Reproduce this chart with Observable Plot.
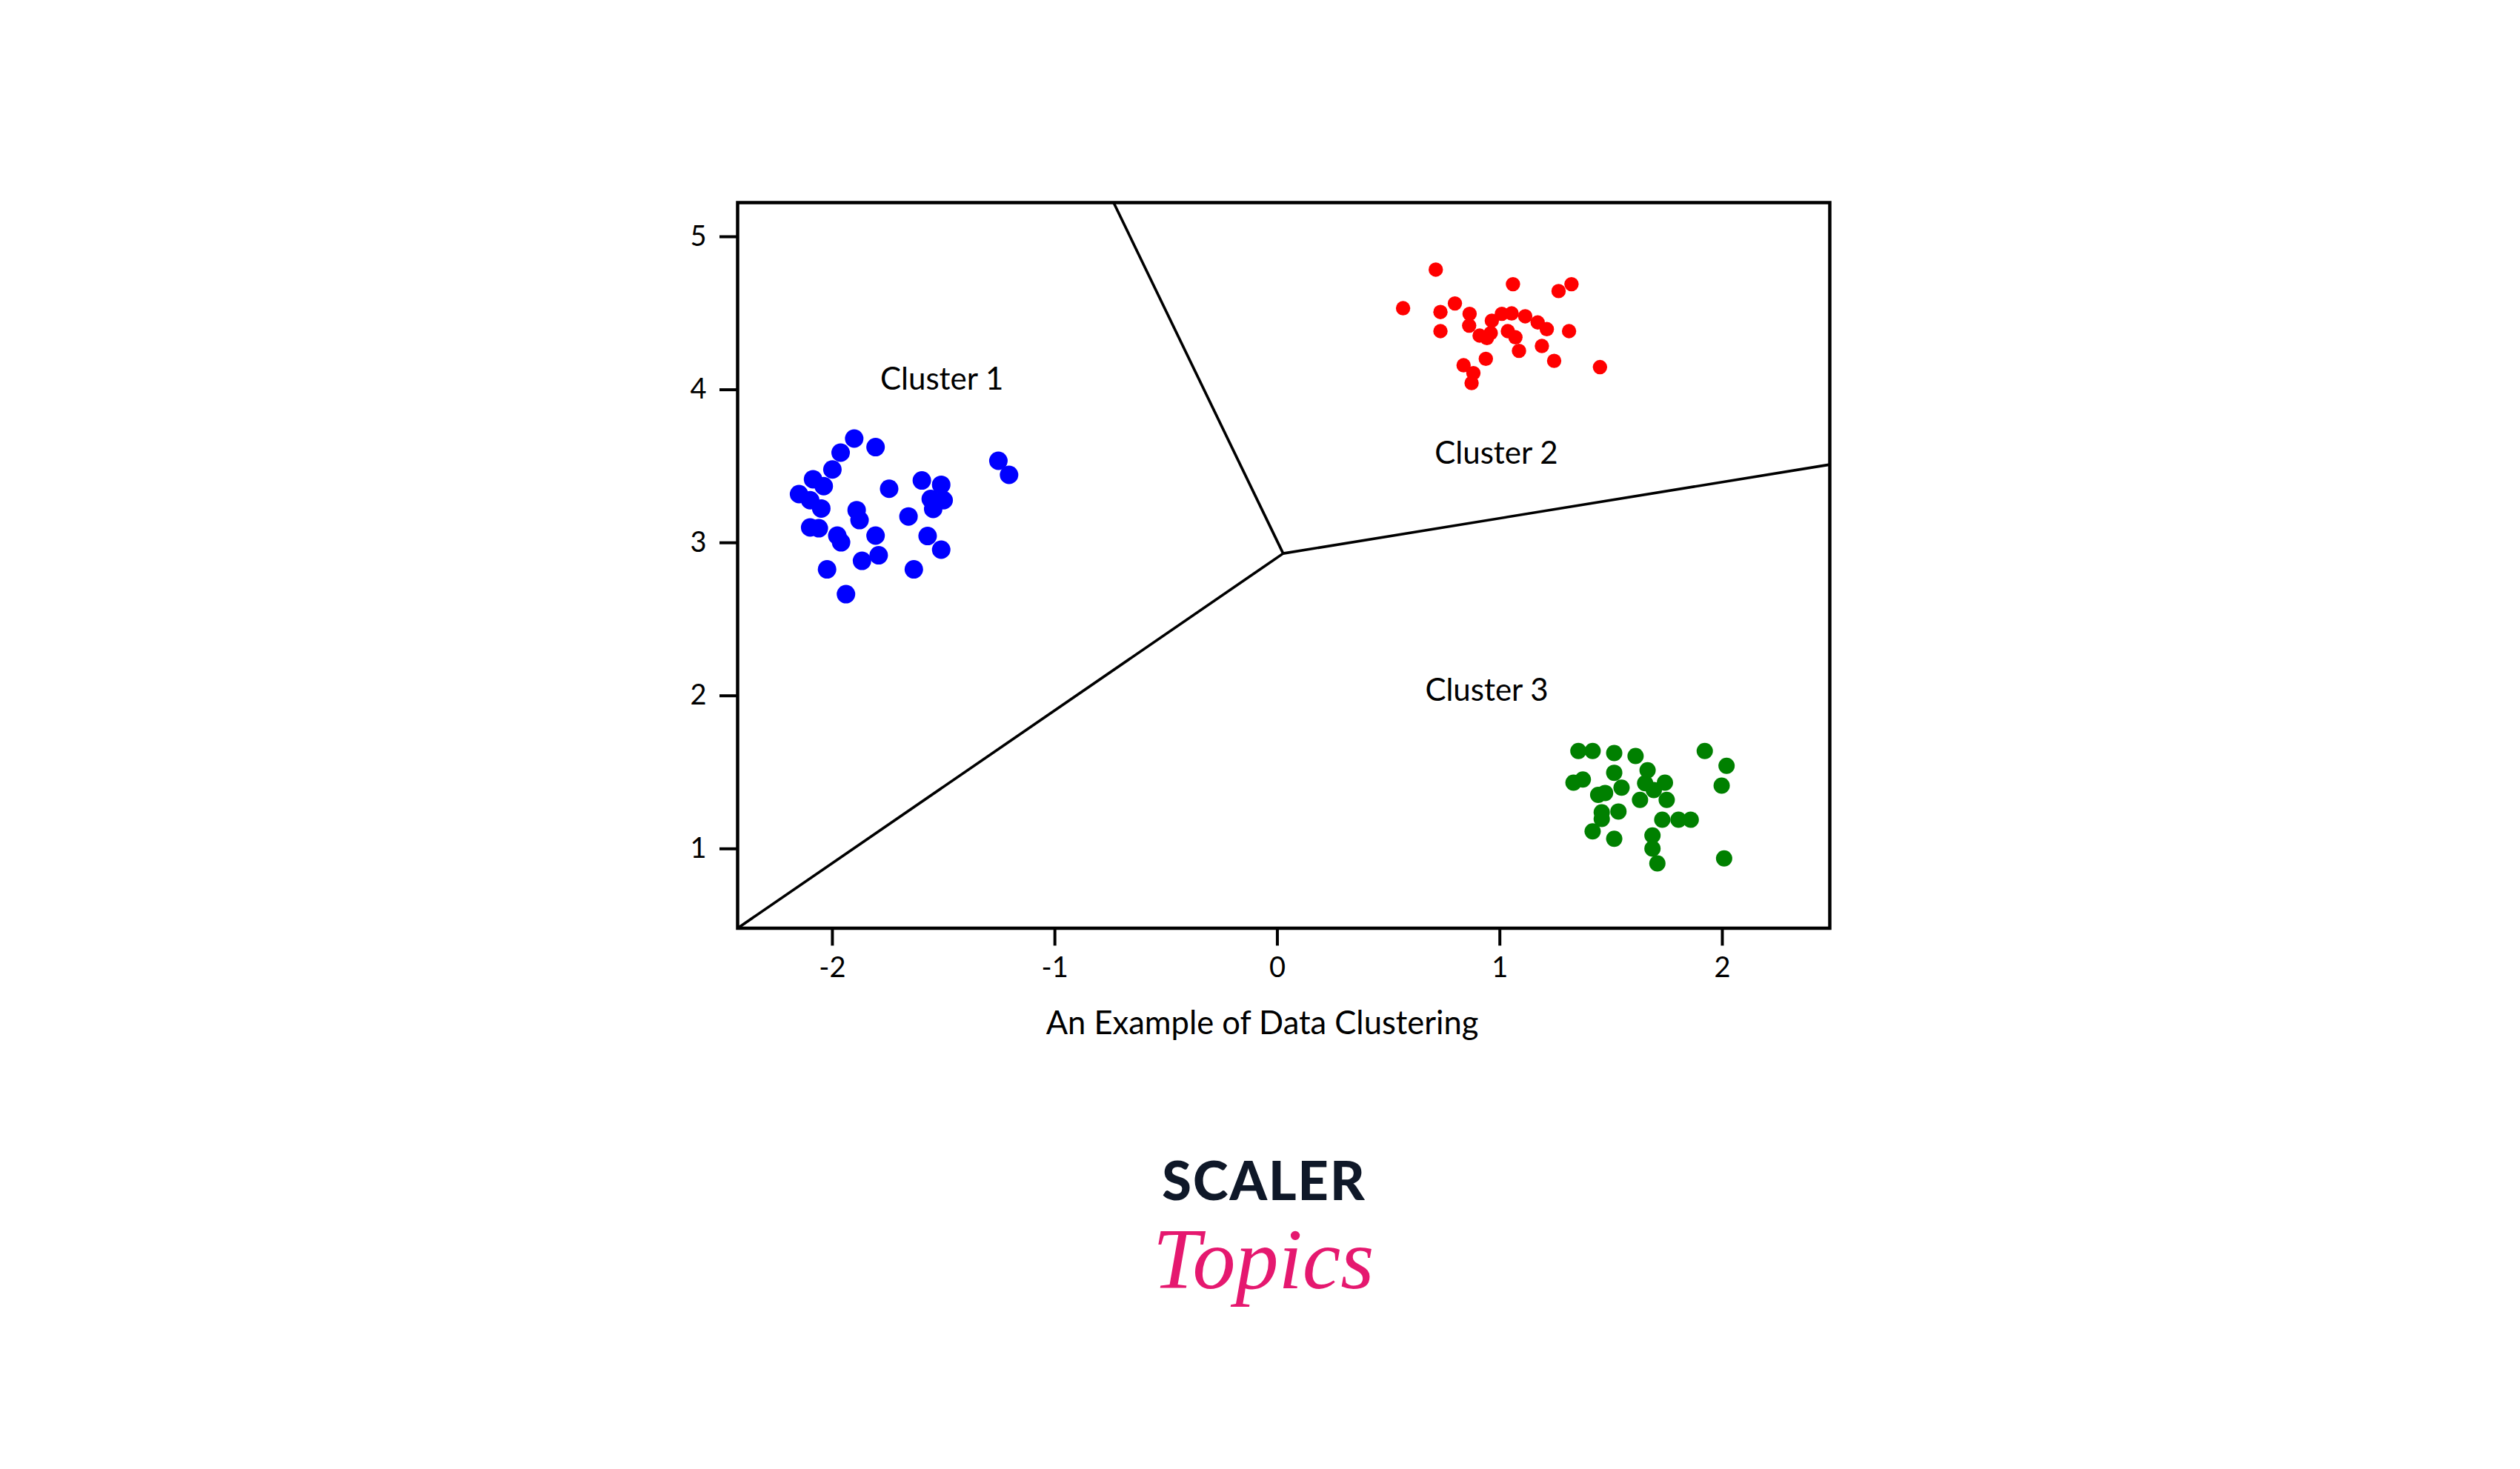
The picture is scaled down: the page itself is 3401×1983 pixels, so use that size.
<!DOCTYPE html>
<html>
<head>
<meta charset="utf-8">
<script src="https://cdn.jsdelivr.net/npm/d3@7"></script>
<script src="https://cdn.jsdelivr.net/npm/@observablehq/plot@0.6"></script>
<style>
  html, body { margin: 0; padding: 0; background: #ffffff; }
  #page { position: relative; width: 3401px; height: 1983px; background: #ffffff; overflow: hidden; }
  #chart { position: absolute; left: 0; top: 0; }
  #logo { position: absolute; left: 1550px; top: 1556px; width: 310px; text-align: center; }
  #logo .scaler { font-family: Lato, "Open Sans", sans-serif; font-weight: 900; font-size: 72px; letter-spacing: 2px; color: #0f1828; line-height: 1; margin-left: 2px; }
  #logo .topics { font-family: "Liberation Serif", "DejaVu Serif", serif; font-style: italic; font-size: 116px; color: #e5186f; line-height: 1; margin-top: 14px; }
</style>
</head>
<body>
<div id="page">
  <div id="chart"></div>
  <div id="logo"><div class="scaler">SCALER</div><div class="topics">Topics</div></div>
</div>
<script>
// ---- Data ----
const cluster1X = [-1.902, -1.806, -1.963, -2.000, -2.087, -2.039, -2.150, -2.100, -2.050, -1.745,
                   -1.598, -1.511, -1.558, -1.500, -1.547, -1.891, -1.878, -2.100, -2.061, -1.658,
                   -1.978, -1.961, -1.806, -1.572, -1.511, -1.867, -1.792, -2.024, -1.634, -1.939,
                   -1.254, -1.206];
const cluster1Y = [3.681, 3.625, 3.589, 3.479, 3.415, 3.370, 3.318, 3.278, 3.224, 3.353,
                   3.407, 3.379, 3.286, 3.278, 3.221, 3.213, 3.148, 3.100, 3.095, 3.172,
                   3.047, 3.003, 3.047, 3.044, 2.955, 2.882, 2.918, 2.826, 2.826, 2.664,
                   3.536, 3.444];

const cluster2X = [0.712, 1.059, 1.264, 1.322, 0.565, 0.733, 0.798, 0.864, 0.862, 0.733,
                   0.964, 1.009, 1.053, 1.114, 1.170, 1.211, 1.311, 0.909, 0.942, 0.959,
                   1.036, 1.070, 1.086, 1.189, 0.937, 0.837, 0.881, 0.873, 1.244, 1.450];
const cluster2Y = [4.785, 4.690, 4.645, 4.690, 4.533, 4.508, 4.564, 4.496, 4.419, 4.383,
                   4.451, 4.496, 4.499, 4.480, 4.440, 4.396, 4.383, 4.354, 4.338, 4.370,
                   4.383, 4.343, 4.254, 4.286, 4.202, 4.160, 4.109, 4.044, 4.189, 4.148];

const cluster3X = [1.353, 1.417, 1.514, 1.610, 1.921, 2.019, 1.997, 1.331, 1.373, 1.514,
                   1.664, 1.547, 1.653, 1.692, 1.742, 1.442, 1.473, 1.630, 1.750, 1.458,
                   1.458, 1.533, 1.730, 1.803, 1.858, 1.417, 1.514, 1.686, 1.686, 1.708,
                   2.008];
const cluster3Y = [1.639, 1.639, 1.626, 1.607, 1.639, 1.542, 1.413, 1.432, 1.453, 1.497,
                   1.513, 1.400, 1.429, 1.384, 1.432, 1.352, 1.365, 1.320, 1.320, 1.239,
                   1.195, 1.244, 1.190, 1.190, 1.190, 1.114, 1.066, 1.087, 1.001, 0.905,
                   0.937];

// Cluster boundaries: three segments leaving a common junction
const junctionX = 0.026;
const junctionY = 2.930;
const boundaryEndX = [-0.736, -2.426, 2.483];
const boundaryEndY = [5.223, 0.481, 3.511];

const labelText = ["Cluster 1", "Cluster 2", "Cluster 3"];
const labelX = [-1.508, 0.984, 0.941];
const labelY = [4.067, 3.584, 2.030];

const xTicks = [-2, -1, 0, 1, 2];
const yTicks = [1, 2, 3, 4, 5];
const xDomain = [-2.426, 2.483];
const yDomain = [0.481, 5.223];
const axisTitle = "An Example of Data Clustering";

// ---- Build tables ----
const pts = (xs, ys) => xs.map((x, i) => ({x, y: ys[i]}));
const c1 = pts(cluster1X, cluster1Y);
const c2 = pts(cluster2X, cluster2Y);
const c3 = pts(cluster3X, cluster3Y);
const links = boundaryEndX.map((x, i) => ({x1: junctionX, y1: junctionY, x2: x, y2: boundaryEndY[i]}));
const labels = labelText.map((t, i) => ({t, x: labelX[i], y: labelY[i]}));

const W = 3401, H = 1500;
const chart = Plot.plot({
  width: W,
  height: H,
  marginLeft: 995,
  marginRight: 932,
  marginTop: 273,
  marginBottom: H - 1252.5,
  x: {domain: xDomain, label: null},
  y: {domain: yDomain, label: null},
  style: {fontFamily: "Lato, 'Open Sans', sans-serif", fontSize: "38px", color: "#000", background: "#fff", overflow: "visible"},
  marks: [
    Plot.link(links, {x1: "x1", y1: "y1", x2: "x2", y2: "y2", stroke: "#000", strokeWidth: 3.6}),
    Plot.dot(c1, {x: "x", y: "y", r: 12.5, fill: "#0000ff"}),
    Plot.dot(c2, {x: "x", y: "y", r: 9.7, fill: "#ff0000"}),
    Plot.dot(c3, {x: "x", y: "y", r: 11, fill: "#008000"}),
    Plot.text(labels, {x: "x", y: "y", text: "t", fontSize: 42, fill: "#000"}),
    Plot.frame({stroke: "#000", strokeWidth: 4.5}),
    Plot.axisX({ticks: xTicks, tickFormat: d => String(d), tickSize: 24, tickPadding: 15, strokeWidth: 4, fontSize: 38, label: null}),
    Plot.axisY({ticks: yTicks, tickFormat: d => String(d), tickSize: 24, tickPadding: 18, strokeWidth: 4, fontSize: 38, label: null}),
    Plot.text([axisTitle], {frameAnchor: "bottom", lineAnchor: "bottom", dy: 143, dx: -29, fontSize: 43.5, fill: "#000"})
  ]
});
document.getElementById("chart").appendChild(chart);
</script>
</body>
</html>
